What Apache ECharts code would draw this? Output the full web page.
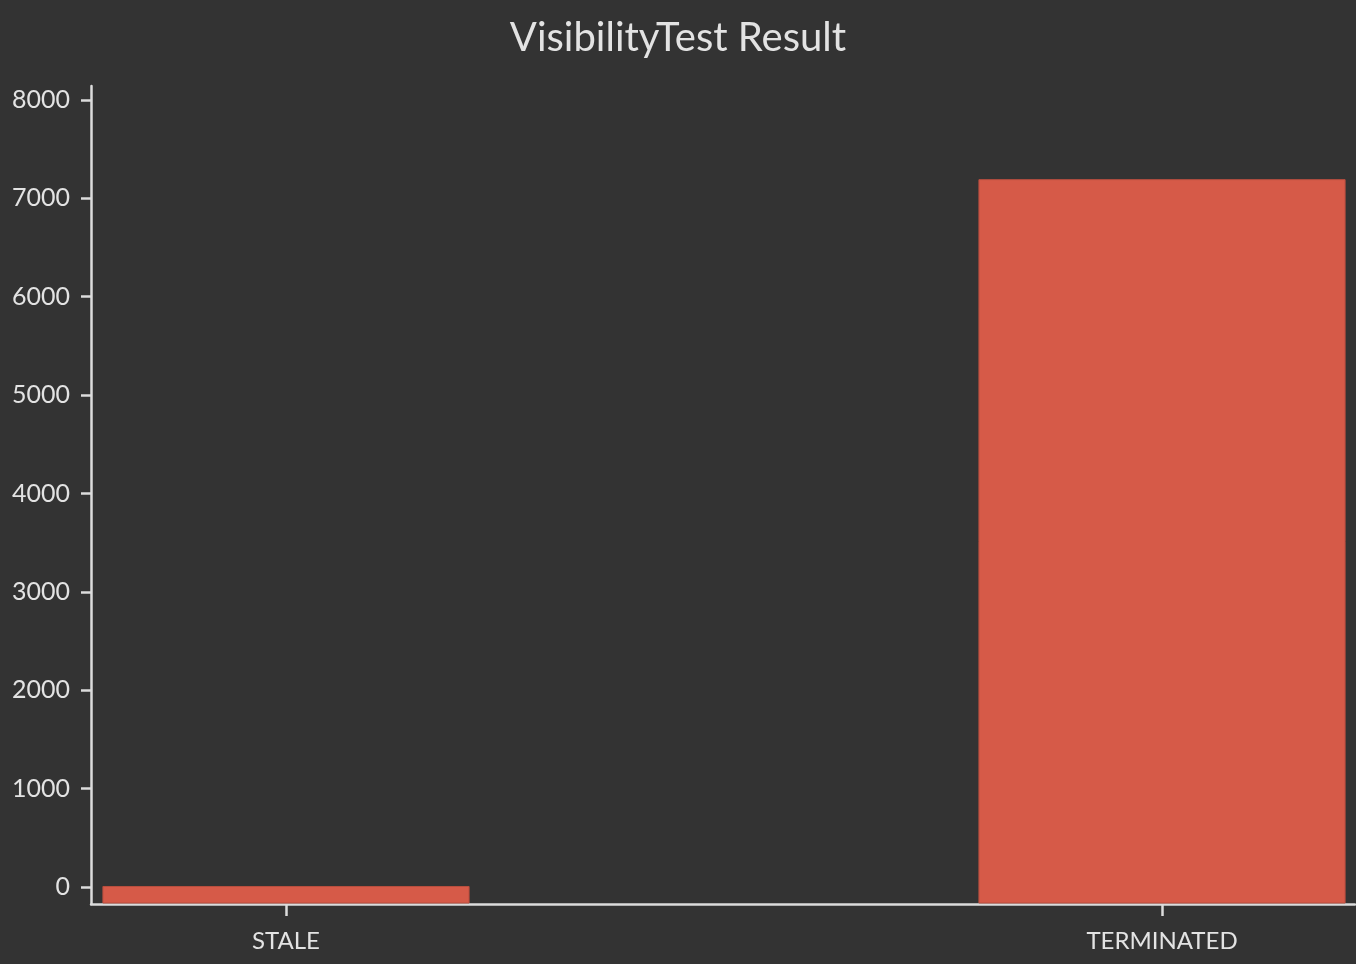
<!DOCTYPE html>
<html>
<head>
<meta charset="utf-8">
<script src="https://cdn.jsdelivr.net/npm/echarts@6/dist/echarts.min.js"></script>
<style>
html,body{margin:0;padding:0;background:#333333;}
#chart{width:1356px;height:964px;}
</style>
</head>
<body>
<div id="chart"></div>
<script>
var titleText = 'VisibilityTest Result';
var categories = ['STALE', 'TERMINATED'];
var values = [5, 7190];
var yTicks = [0, 1000, 2000, 3000, 4000, 5000, 6000, 7000, 8000];

var fontFam = 'Lato, "Open Sans", sans-serif';
var textColor = '#e3e3e3';
var axisColor = '#dcdcdc';

var chart = echarts.init(document.getElementById('chart'));
var yMin = -173, yMax = 8142;
var barFrac = 0.418;

chart.setOption({
  backgroundColor: '#333333',
  animation: false,
  title: {
    text: titleText,
    left: 'center',
    top: 13,
    textStyle: { color: textColor, fontFamily: fontFam, fontSize: 40, fontWeight: 'normal' }
  },
  grid: { left: 91, right: 1, top: 86, bottom: 60, containLabel: false },
  xAxis: {
    type: 'value',
    min: -0.2226,
    max: 1.2203,
    splitLine: { show: false },
    axisLine: { show: true, onZero: false, lineStyle: { color: axisColor, width: 2.5 } },
    axisTick: { show: true, length: 12, customValues: categories.map(function (c, i) { return i; }), lineStyle: { color: axisColor, width: 2.5 } },
    axisLabel: {
      customValues: categories.map(function (c, i) { return i; }),
      formatter: function (v) { return categories[Math.round(v)]; },
      color: textColor, fontFamily: fontFam, fontSize: 24, margin: 25
    }
  },
  yAxis: {
    type: 'value',
    min: yMin,
    max: yMax,
    splitLine: { show: false },
    axisLine: { show: true, onZero: false, lineStyle: { color: axisColor, width: 2.5 } },
    axisTick: { show: true, length: 10, customValues: yTicks, lineStyle: { color: axisColor, width: 2.5 } },
    axisLabel: {
      customValues: yTicks,
      formatter: function (v) { return String(Math.round(v)); },
      color: textColor, fontFamily: fontFam, fontSize: 25, margin: 21
    }
  },
  series: [{
    type: 'custom',
    data: values.map(function (v, i) { return [i, v]; }),
    renderItem: function (params, api) {
      var x = api.value(0), v = api.value(1);
      var top = api.coord([x, v]);
      var base = api.coord([x, yMin]);
      var w = api.size([barFrac, 0])[0];
      return {
        type: 'rect',
        shape: { x: top[0] - w / 2, y: top[1], width: w, height: base[1] - top[1] - 1 },
        style: { fill: '#d65a48', stroke: '#b94e3f', lineWidth: 1 }
      };
    },
    z: 1
  }]
});
</script>
</body>
</html>
